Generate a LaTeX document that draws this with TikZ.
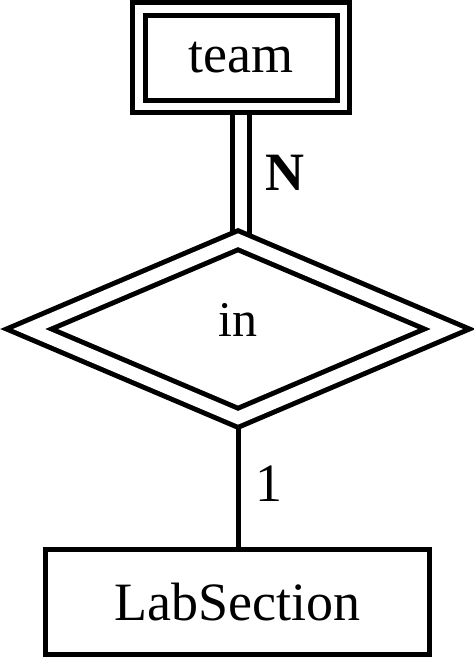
\documentclass[tikz,border=0pt]{standalone}
\usepackage{fontspec}
\setmainfont{Liberation Serif}
\usetikzlibrary{shapes.geometric}

\begin{document}
\begin{tikzpicture}[x=1pt,y=-1pt,line width=5pt,
  every node/.style={font=\fontsize{54}{60}\selectfont,inner sep=0pt,outer sep=0pt}]
\useasboundingbox (0,0) rectangle (474,659);
\node[minimum width=204.5pt,minimum height=97.5pt] (team) at (241,57.5) {team};
\node[diamond,minimum width=418pt,minimum height=177.6pt,text depth=18pt,font=\fontsize{50}{60}\selectfont] (in) at (238,329) {in};
\node[minimum width=384pt,minimum height=105.5pt] (lab) at (237.5,601.75) {LabSection};
% links first, borders on top
\draw[double,double distance=12pt] (team.south) -- node[xshift=44pt] {\bfseries N} (team.south |- in.north);
\draw (in.south) -- node[xshift=31pt] {1} (lab.north -| in.south);
% borders
\draw[double,double distance=7.5pt] (team.north west) rectangle (team.south east);
\draw[double,double distance=12.5pt] (in.north) -- (in.east) -- (in.south) -- (in.west) -- cycle;
\draw (lab.north west) rectangle (lab.south east);
\end{tikzpicture}
\end{document}
